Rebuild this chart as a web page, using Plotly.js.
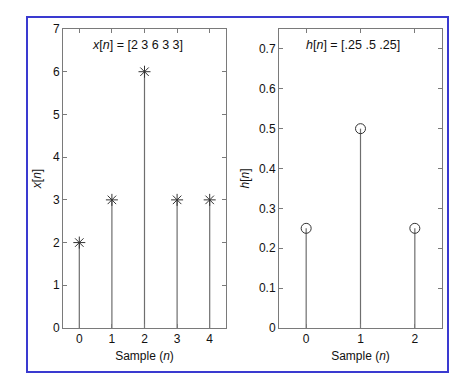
<!DOCTYPE html>
<html>
<head>
<meta charset="utf-8">
<script src="https://cdn.plot.ly/plotly-3.0.1.min.js"></script>
<style>html,body{margin:0;padding:0;background:#fff;}#chart{width:474px;height:382px;}</style>
</head>
<body>
<div id="chart"></div>
<script>
const xSamples = [0, 1, 2, 3, 4];
const xValues = [2, 3, 6, 3, 3];
const hSamples = [0, 1, 2];
const hValues = [0.25, 0.5, 0.25];
const xTicks = [0, 1, 2, 3, 4, 5, 6, 7];
const hTicks = [0, 0.1, 0.2, 0.3, 0.4, 0.5, 0.6, 0.7];

const stemColor = '#6e6e6e';
const axisColor = '#7a7a7a';
const font = {family: 'Liberation Sans, Arial, sans-serif', size: 12, color: '#111'};

const traces = [
  {
    x: xSamples, y: xValues, xaxis: 'x', yaxis: 'y', type: 'scatter', mode: 'markers',
    marker: {symbol: 'asterisk-open', size: 10, color: '#333', line: {color: '#333', width: 1}},
    error_y: {type: 'data', symmetric: false, array: xValues.map(() => 0), arrayminus: xValues, width: 0, thickness: 1.2, color: stemColor},
    showlegend: false, hoverinfo: 'none'
  },
  {
    x: hSamples, y: hValues, xaxis: 'x2', yaxis: 'y2', type: 'scatter', mode: 'markers',
    marker: {symbol: 'circle-open', size: 10, color: '#333', line: {color: '#333', width: 1}},
    error_y: {type: 'data', symmetric: false, array: hValues.map(() => 0), arrayminus: hValues, width: 0, thickness: 1.2, color: stemColor},
    showlegend: false, hoverinfo: 'none'
  }
];

const axCommon = {
  showline: true, linecolor: axisColor, linewidth: 1, mirror: 'ticks',
  ticks: 'inside', ticklen: 4, tickcolor: axisColor, showgrid: false, zeroline: false,
  tickfont: font, fixedrange: true
};
const yDom = [1 - 328/382, 1 - 29/382];

const layout = {
  width: 474, height: 382,
  margin: {l: 0, r: 0, t: 0, b: 0},
  paper_bgcolor: '#fff', plot_bgcolor: '#fff',
  font: font,
  xaxis: Object.assign({}, axCommon, {domain: [63/474, 226/474], range: [-0.5, 4.5], tickvals: xSamples, anchor: 'y',
    title: {text: 'Sample (<i>n</i>)', font: font, standoff: 6}}),
  yaxis: Object.assign({}, axCommon, {domain: yDom, range: [0, 7], tickvals: xTicks, anchor: 'x',
    title: {text: '<i>x</i>[<i>n</i>]', font: font, standoff: 8}}),
  xaxis2: Object.assign({}, axCommon, {domain: [279/474, 442/474], range: [-0.5, 2.5], tickvals: hSamples, anchor: 'y2',
    title: {text: 'Sample (<i>n</i>)', font: font, standoff: 6}}),
  yaxis2: Object.assign({}, axCommon, {domain: yDom, range: [0, 0.75], tickvals: hTicks, ticktext: hTicks.map(v => v === 0 ? '0' : v.toFixed(1)), anchor: 'x2',
    title: {text: '<i>h</i>[<i>n</i>]', font: font, standoff: 6}}),
  annotations: [
    {xref: 'x', yref: 'paper', x: 1.8, y: 1 - 45/382, text: '<i>x</i>[<i>n</i>] = [2 3 6 3 3]', showarrow: false, font: {family: font.family, size: 12.5, color: '#111'}, xanchor: 'center', yanchor: 'middle'},
    {xref: 'x2', yref: 'paper', x: 0.87, y: 1 - 45/382, text: '<i>h</i>[<i>n</i>] = [.25 .5 .25]', showarrow: false, font: {family: font.family, size: 12.5, color: '#111'}, xanchor: 'center', yanchor: 'middle'}
  ],
  shapes: [
    {type: 'rect', xref: 'paper', yref: 'paper', x0: 27/474, x1: 448/474, y0: 1 - 372/382, y1: 1 - 17/382, line: {color: '#3a3ad0', width: 2}, fillcolor: 'rgba(0,0,0,0)', layer: 'below'}
  ]
};

Plotly.newPlot('chart', traces, layout, {staticPlot: true, displayModeBar: false});
</script>
</body>
</html>
